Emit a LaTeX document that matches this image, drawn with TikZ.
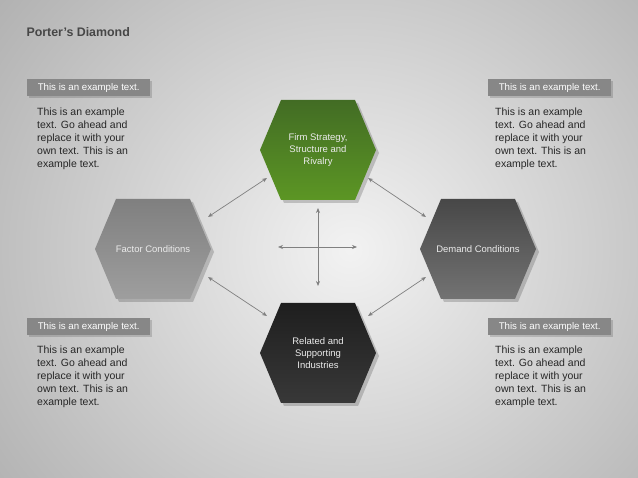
\documentclass[tikz,border=0pt]{standalone}
\usepackage{fontspec}
\setmainfont{Liberation Sans}
\usetikzlibrary{arrows.meta}
\definecolor{gtop}{RGB}{66,108,36}
\definecolor{gbot}{RGB}{92,150,36}
\newcommand\hexpath[1]{(#1)++(-58,0) -- ++(21,-50) -- ++(74,0) -- ++(21,50) -- ++(-21,50) -- ++(-74,0) -- cycle}
\tikzset{
  hexlabel/.style={text=white!92!black,font=\fontsize{9.5}{12}\selectfont,align=center},
  tagbox/.style={fill=black!47,text=white,font=\fontsize{9.7}{11}\selectfont,minimum width=123,minimum height=17,inner sep=0,anchor=north west},
  body/.style={anchor=north west,align=left,font=\fontsize{10.5}{13}\selectfont,text=black!85,inner sep=0},
  conn/.style={draw=black!50,line width=0.7,{Stealth[length=5,width=4]}-{Stealth[length=5,width=4]}}
}
\begin{document}
\begin{tikzpicture}[x=1pt,y=-1pt]
\useasboundingbox (0,0) rectangle (638,478);
\shade[inner color=white!95!black,outer color=black!45] (-350,-400) rectangle (1050,900);
\coordinate (cT) at (318,150);
\coordinate (cF) at (153,249);
\coordinate (cD) at (478,249);
\coordinate (cR) at (318,353);
\foreach \c in {cT,cF,cD,cR}{\fill[black,opacity=0.18] ([shift={(3,3)}]\c)++(-58,0) -- ++(21,-50) -- ++(74,0) -- ++(21,50) -- ++(-21,50) -- ++(-74,0) -- cycle;}
\shade[top color=gtop,bottom color=gbot] \hexpath{cT};
\shade[top color=black!50,bottom color=black!38] \hexpath{cF};
\shade[top color=black!72,bottom color=black!55] \hexpath{cD};
\shade[top color=black!88,bottom color=black!78] \hexpath{cR};
\node[hexlabel] (nT) at (cT) {Firm Strategy,\\Structure and\\Rivalry};
\node[hexlabel] (nF) at (cF) {Factor Conditions};
\node[hexlabel] (nD) at (cD) {Demand Conditions};
\node[hexlabel] (nR) at (cR) {Related and\\Supporting\\Industries};
\coordinate (a1) at (208,217); \coordinate (a2) at (267,178);
\coordinate (b1) at (368,178); \coordinate (b2) at (426,217);
\coordinate (c1) at (208,277); \coordinate (c2) at (267,316);
\coordinate (d1) at (368,316); \coordinate (d2) at (426,277);
\coordinate (h1) at (278,247); \coordinate (h2) at (357,247);
\coordinate (v1) at (318,208); \coordinate (v2) at (318,286);
\foreach \p/\q in {a1/a2,b1/b2,c1/c2,d1/d2,h1/h2,v1/v2}{\draw[conn] (\p) -- (\q);}
\node[anchor=west,font=\bfseries\fontsize{12.4}{14}\selectfont,text=black!72] (title) at (23,32) {Porter’s Diamond};
\foreach \x/\y/\n in {27/79/t1,488/79/t2,27/318/t3,488/318/t4}{
  \fill[black,opacity=0.15] (\x+2,\y+2) rectangle ++(123,17);
  \node[tagbox] (\n) at (\x,\y) {This is an example text.};
}
\foreach \x/\y/\n in {37/108/b1,495/108/b2,37/346/b3,495/346/b4}{
  \node[body] (\n) at (\x,\y) {This is an example\\text. Go ahead and\\replace it with your\\own text. This is an\\example text.};
}
\end{tikzpicture}
\end{document}
